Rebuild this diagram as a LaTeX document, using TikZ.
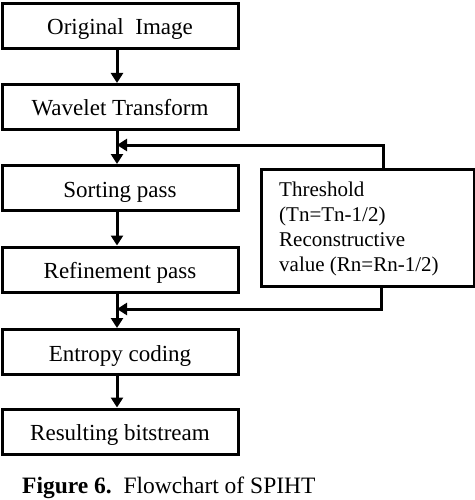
\documentclass[tikz,border=0pt]{standalone}
\usepackage{fontspec}
\setmainfont{Liberation Serif}
\usetikzlibrary{arrows.meta,calc}
\begin{document}
\begin{tikzpicture}[x=1pt,y=-1pt,
  box/.style={draw,line width=3pt,minimum width=236pt,minimum height=45pt,inner sep=0pt,text height=21pt,text depth=3pt,font=\fontsize{23}{27}\selectfont},
  arr/.style={line width=3pt,-{Triangle[length=10pt,width=12pt]}},
  ln/.style={line width=3pt}]
\useasboundingbox (0,0) rectangle (474,500);
\node[box] (n1) at (120,26) {Original\ \ Image};
\node[box] (n2) at (120,107) {Wavelet Transform};
\node[box] (n3) at (120,188) {Sorting pass};
\node[box] (n4) at (120,269.5) {Refinement pass};
\node[box] (n5) at (120,352) {Entropy coding};
\node[box] (n6) at (120,431.5) {Resulting bitstream};
\node[draw,line width=3pt,minimum width=213pt,minimum height=117pt,inner sep=0pt,anchor=north west] (th) at (259.5,168) {};
\node[anchor=north west,align=left,inner sep=0pt,font=\fontsize{21}{25}\selectfont] (tt) at (279,182) {Threshold\\(Tn=Tn-1/2)\\Reconstructive\\value (Rn=Rn-1/2)};
\coordinate (j1) at (117,145);
\coordinate (j2) at (117,309);
\draw[arr] ([xshift=-3pt]n1.south) -- ([xshift=-3pt]n2.north);
\draw[arr] ([xshift=-3pt]n2.south) -- ([xshift=-3pt]n3.north);
\draw[arr] ([xshift=-3pt]n3.south) -- ([xshift=-3pt]n4.north);
\draw[arr] ([xshift=-3pt]n4.south) -- ([xshift=-3pt]n5.north);
\draw[arr] ([xshift=-3pt]n5.south) -- ([xshift=-3pt]n6.north);
\draw[arr] ([xshift=16pt]th.north) |- (j1);
\draw[arr] ([xshift=14pt]th.south) |- (j2);
\node[anchor=base west,inner sep=0pt,font=\fontsize{23.5}{27}\selectfont] (cap) at (22,493) {\textbf{Figure 6.}\ \ Flowchart of SPIHT};
\end{tikzpicture}
\end{document}
